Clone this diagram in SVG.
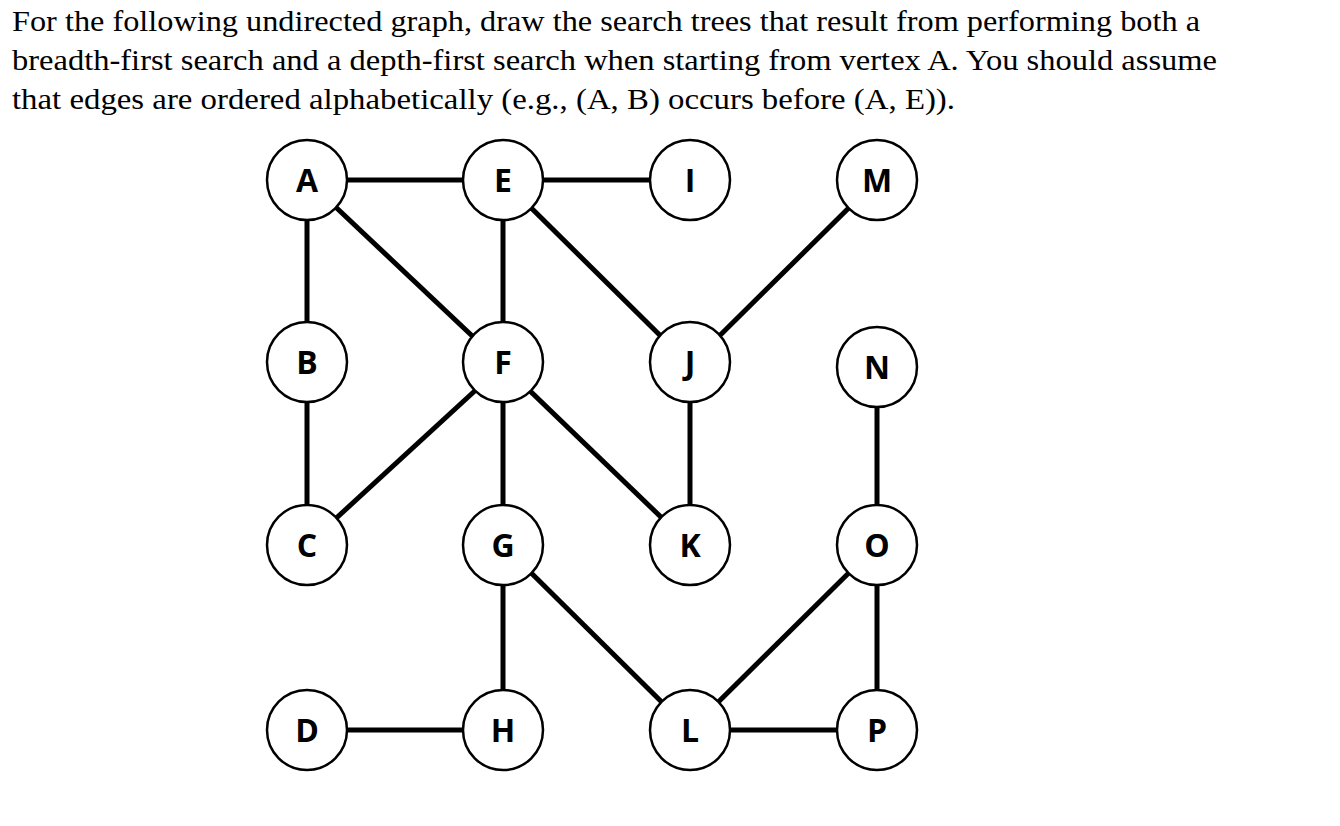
<svg xmlns="http://www.w3.org/2000/svg" width="1340" height="826" viewBox="0 0 1340 826">
<style>
.t{font-family:"Liberation Serif",serif;font-size:29px;fill:#000}
.n circle{fill:#fff;stroke:#000;stroke-width:2.5}
.n text{font-family:"Open Sans","Liberation Sans",sans-serif;font-weight:bold;font-size:32px;text-anchor:middle;fill:#000}
#edges line{stroke:#000;stroke-width:5}
</style>
<rect width="1340" height="826" fill="#fff"/>
<text class="t" x="12" y="31" textLength="1188" lengthAdjust="spacingAndGlyphs">For the following undirected graph, draw the search trees that result from performing both a</text>
<text class="t" x="12" y="70" textLength="1205" lengthAdjust="spacingAndGlyphs">breadth-first search and a depth-first search when starting from vertex A. You should assume</text>
<text class="t" x="12" y="109" textLength="943" lengthAdjust="spacingAndGlyphs">that edges are ordered alphabetically (e.g., (A, B) occurs before (A, E)).</text>
<g id="edges">
<line x1="307" y1="180" x2="503" y2="180"/>
<line x1="503" y1="180" x2="690" y2="180"/>
<line x1="307" y1="180" x2="307" y2="545"/>
<line x1="307" y1="180" x2="503" y2="365"/>
<line x1="503" y1="180" x2="503" y2="730"/>
<line x1="503" y1="180" x2="690" y2="365"/>
<line x1="877" y1="180" x2="690" y2="365"/>
<line x1="503" y1="365" x2="307" y2="545"/>
<line x1="503" y1="365" x2="690" y2="545"/>
<line x1="690" y1="365" x2="690" y2="545"/>
<line x1="877" y1="367" x2="877" y2="730"/>
<line x1="503" y1="545" x2="690" y2="730"/>
<line x1="877" y1="545" x2="690" y2="730"/>
<line x1="307" y1="730" x2="503" y2="730"/>
<line x1="690" y1="730" x2="877" y2="730"/>
</g>
<g id="A" class="n"><circle cx="307" cy="180" r="40"/><text x="307" y="192">A</text></g>
<g id="E" class="n"><circle cx="503" cy="180" r="40"/><text x="503" y="192">E</text></g>
<g id="I" class="n"><circle cx="690" cy="180" r="40"/><text x="690" y="192">I</text></g>
<g id="M" class="n"><circle cx="877" cy="180" r="40"/><text x="877" y="192">M</text></g>
<g id="B" class="n"><circle cx="307" cy="362" r="40"/><text x="307" y="374">B</text></g>
<g id="F" class="n"><circle cx="503" cy="362" r="40"/><text x="503" y="374">F</text></g>
<g id="J" class="n"><circle cx="690" cy="362" r="40"/><text x="690" y="374">J</text></g>
<g id="N" class="n"><circle cx="877" cy="367" r="40"/><text x="877" y="379">N</text></g>
<g id="C" class="n"><circle cx="307" cy="545" r="40"/><text x="307" y="557">C</text></g>
<g id="G" class="n"><circle cx="503" cy="545" r="40"/><text x="503" y="557">G</text></g>
<g id="K" class="n"><circle cx="690" cy="545" r="40"/><text x="690" y="557">K</text></g>
<g id="O" class="n"><circle cx="877" cy="545" r="40"/><text x="877" y="557">O</text></g>
<g id="D" class="n"><circle cx="307" cy="730" r="40"/><text x="307" y="742">D</text></g>
<g id="H" class="n"><circle cx="503" cy="730" r="40"/><text x="503" y="742">H</text></g>
<g id="L" class="n"><circle cx="690" cy="730" r="40"/><text x="690" y="742">L</text></g>
<g id="P" class="n"><circle cx="877" cy="730" r="40"/><text x="877" y="742">P</text></g>
</svg>
